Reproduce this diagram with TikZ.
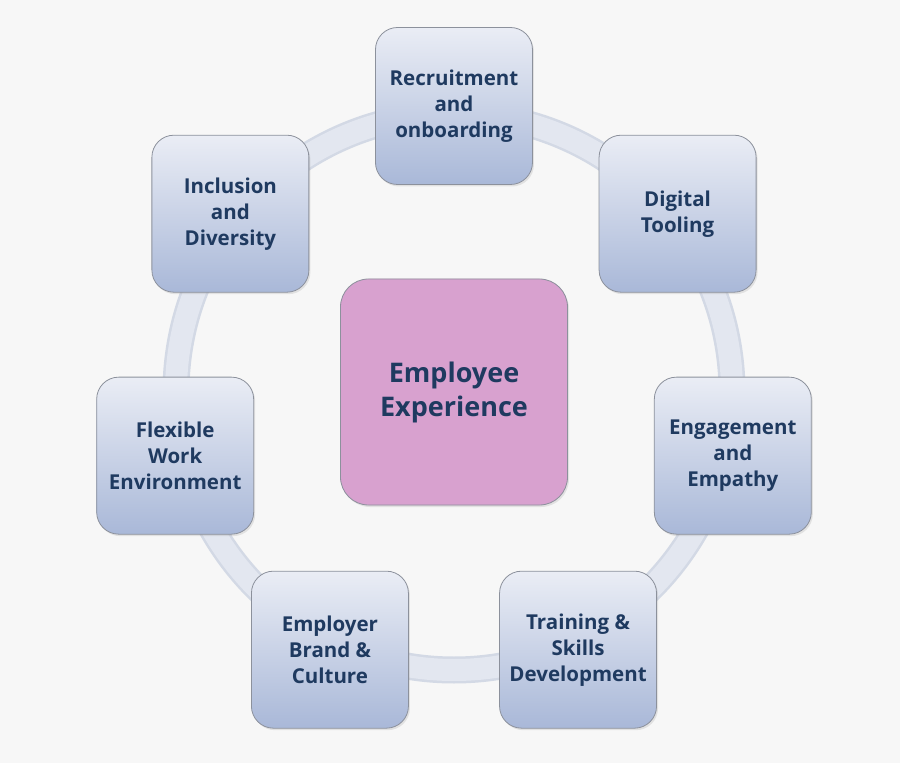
\documentclass[tikz,border=0pt]{standalone}
\usepackage{fontspec}
\setmainfont{Open Sans}
\usetikzlibrary{shadows}
\definecolor{bg}{HTML}{F7F7F7}
\definecolor{navy}{HTML}{1F3A60}
\definecolor{boxtop}{HTML}{EAEDF5}
\definecolor{boxbottom}{HTML}{A9B8D8}
\definecolor{boxline}{HTML}{8C919C}
\definecolor{hub}{HTML}{D8A1CF}
\definecolor{ringout}{HTML}{D3D9E5}
\definecolor{ringin}{HTML}{E3E7F0}

\begin{document}
\begin{tikzpicture}[x=1pt, y=1pt,
  item/.style = {draw=boxline, line width=0.8pt, rounded corners=22pt,
    minimum width=157pt, minimum height=157pt, inner sep=0pt,
    top color=boxtop, bottom color=boxbottom, align=center, text=navy,
    font=\bfseries\fontsize{20.5}{26}\selectfont,
    drop shadow={shadow xshift=1.5pt, shadow yshift=-2pt, opacity=.18}},
  core/.style = {item, rounded corners=28pt, minimum width=227pt,
    minimum height=226pt, fill=hub, top color=hub, bottom color=hub,
    font=\bfseries\fontsize{27}{34}\selectfont}]
  \fill[bg] (-454,-371) rectangle (446,392);
  \useasboundingbox (-454,-371) rectangle (446,392);
  \coordinate (o) at (0,0);
  \draw[ringout, line width=27pt] (o) circle (278);
  \draw[ringin, line width=22pt] (o) circle (278);
  \node[core] (c) at (o) {Employee\\Experience};
  \node[item] (0) at (90:286)      {Recruitment\\and\\onboarding};
  \node[item] (1) at (38.57:286)   {Digital\\Tooling};
  \node[item] (2) at (-12.86:286)  {Engagement\\and\\Empathy};
  \node[item] (3) at (-64.29:286)  {Training \&\\Skills\\Development};
  \node[item] (4) at (-115.71:286) {Employer\\Brand \&\\Culture};
  \node[item] (5) at (-167.14:286) {Flexible\\Work\\Environment};
  \node[item] (6) at (141.43:286)  {Inclusion\\and\\Diversity};
\end{tikzpicture}
\end{document}
